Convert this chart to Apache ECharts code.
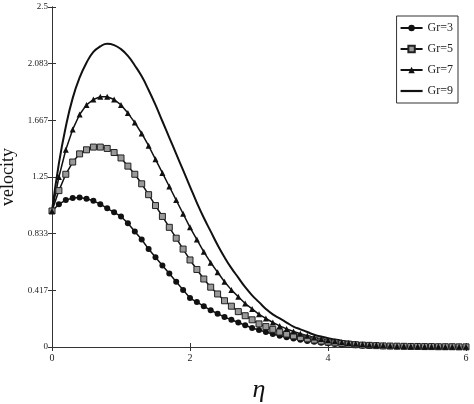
<!DOCTYPE html>
<html><head><meta charset="utf-8">
<script src="https://cdn.jsdelivr.net/npm/echarts@6/dist/echarts.min.js"></script>
<style>html,body{margin:0;background:#fff}#c{width:474px;height:404px}</style>
</head><body><div id="c"></div>
<script>
// eta from 0 to 6 in steps of 0.1
const eta = Array.from({length: 61}, (_, i) => +(i * 0.1).toFixed(1))
const yTicks = ['0', '0.417', '0.833', '1.25', '1.667', '2.083', '2.5']
const names = ['Gr=3', 'Gr=5', 'Gr=7', 'Gr=9']
const gr3 = [1.00,1.05,1.08,1.095,1.10,1.09,1.075,1.05,1.02,0.99,0.96,0.91,0.85,0.79,0.72,0.66,0.60,0.54,0.48,0.42,0.36,0.33,0.30,0.27,0.245,0.22,0.20,0.18,0.16,0.14,0.125,0.11,0.095,0.083,0.072,0.062,0.053,0.045,0.038,0.032,0.027,0.022,0.018,0.015,0.012,0.010,0.008,0.007,0.006,0.005,0.004,0.003,0.003,0.002,0.002,0.002,0.001,0.001,0.001,0.001,0.001]
const gr5 = [1.00,1.15,1.27,1.36,1.42,1.45,1.47,1.47,1.46,1.43,1.39,1.33,1.27,1.20,1.12,1.04,0.96,0.88,0.80,0.72,0.64,0.57,0.50,0.44,0.39,0.34,0.30,0.26,0.23,0.20,0.17,0.15,0.13,0.11,0.095,0.082,0.07,0.06,0.051,0.043,0.036,0.030,0.025,0.021,0.017,0.014,0.012,0.010,0.008,0.007,0.006,0.005,0.004,0.004,0.003,0.003,0.002,0.002,0.002,0.001,0.001]
const gr7 = [1.00,1.25,1.45,1.60,1.71,1.78,1.82,1.84,1.84,1.82,1.78,1.72,1.65,1.57,1.48,1.38,1.28,1.18,1.08,0.98,0.88,0.79,0.70,0.62,0.55,0.48,0.42,0.37,0.32,0.28,0.24,0.21,0.18,0.155,0.133,0.114,0.097,0.083,0.07,0.059,0.05,0.042,0.035,0.029,0.024,0.02,0.017,0.014,0.012,0.01,0.008,0.007,0.006,0.005,0.004,0.003,0.003,0.002,0.002,0.002,0.001]
const gr9 = [1.00,1.35,1.62,1.83,1.98,2.09,2.17,2.21,2.23,2.22,2.19,2.14,2.07,1.99,1.89,1.78,1.66,1.54,1.42,1.30,1.18,1.06,0.95,0.85,0.75,0.66,0.58,0.51,0.44,0.38,0.33,0.28,0.24,0.21,0.18,0.15,0.13,0.11,0.09,0.077,0.065,0.055,0.046,0.038,0.032,0.027,0.022,0.018,0.015,0.012,0.01,0.008,0.007,0.006,0.005,0.004,0.003,0.003,0.002,0.002,0.001]

const pairs = arr => eta.map((x, i) => [x, arr[i]])
const font = 'Liberation Serif'

const axisCommon = {
    axisLine: { lineStyle: { color: '#333', width: 1 } },
    axisTick: { inside: true, length: 4, lineStyle: { color: '#333' } },
    splitLine: { show: false }
}

const chart = echarts.init(document.getElementById('c'))
chart.setOption({
    animation: false,
    textStyle: { fontFamily: font },
    grid: { left: 52, right: 8, top: 7, bottom: 57, containLabel: false, outerBoundsMode: 'none' },
    legend: {
        orient: 'vertical', right: 16, top: 16,
        data: [names[0], names[1], names[2], { name: names[3], icon: 'path://M0 0H20V2H0Z' }],
        itemWidth: 22, itemHeight: 8, itemGap: 9,
        padding: [6, 5, 6, 3],
        borderColor: '#333', borderWidth: 1,
        textStyle: { fontFamily: font, fontSize: 12, color: '#222' }
    },
    xAxis: [
        Object.assign({ type: 'value', min: 0, max: 6, interval: 2,
            name: 'η', nameLocation: 'middle', nameGap: 30,
            nameTextStyle: { fontFamily: font, fontStyle: 'italic', fontSize: 26, color: '#111' },
            axisLabel: { fontSize: 10, color: '#222', margin: 6 } }, axisCommon),
        Object.assign({ type: 'value', min: 0, max: 6, interval: 2, position: 'top',
            axisLabel: { show: false } }, axisCommon)
    ],
    yAxis: [
        Object.assign({ type: 'value', min: 0, max: 2.5, interval: 2.5 / 6,
            name: 'velocity', nameLocation: 'middle', nameGap: 32,
            nameTextStyle: { fontFamily: font, fontSize: 18, color: '#111' },
            axisLabel: { fontSize: 9, color: '#222', margin: 4,
                formatter: (v) => yTicks[Math.round(v / (2.5 / 6))] } }, axisCommon),
        Object.assign({ type: 'value', min: 0, max: 2.5, interval: 2.5 / 6, position: 'right',
            axisLabel: { show: false } }, axisCommon)
    ],
    series: [
        { name: names[0], type: 'line', data: pairs(gr3), symbol: 'circle', symbolSize: 6,
          itemStyle: { color: '#111' }, lineStyle: { color: '#111', width: 1.5 } },
        { name: names[1], type: 'line', data: pairs(gr5), symbol: 'rect', symbolSize: 6,
          itemStyle: { color: '#999', borderColor: '#222', borderWidth: 1 }, lineStyle: { color: '#111', width: 1.5 } },
        { name: names[2], type: 'line', data: pairs(gr7), symbol: 'triangle', symbolSize: 6,
          itemStyle: { color: '#111' }, lineStyle: { color: '#111', width: 1.5 } },
        { name: names[3], type: 'line', data: pairs(gr9), symbol: 'none', smooth: true,
          itemStyle: { color: '#111' }, lineStyle: { color: '#111', width: 2 } }
    ]
})
</script>
</body></html>
